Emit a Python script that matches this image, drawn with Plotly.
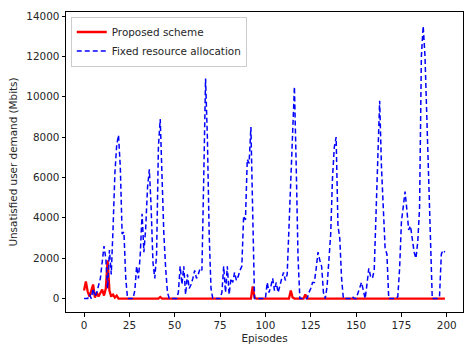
import plotly.graph_objects as go

episodes = list(range(200))

fixed_alloc = [
    0, 0, 0, 200, 0, 500, 100, 300, 600, 1000,            # 0-9
    1800, 2600, 2000, 500, 2400, 1200, 3500, 6200, 7600, 8100,  # 10-19
    6500, 3200, 3300, 1000, 0, 0, 0, 0, 400, 1600,        # 20-29
    1000, 2200, 4200, 2300, 3500, 5500, 6400, 4500, 1800, 1000,  # 30-39
    2200, 7500, 8900, 5500, 3200, 1500, 300, 0, 0, 0,     # 40-49
    0, 0, 300, 1600, 700, 1600, 200, 1200, 500, 700,      # 50-59
    1000, 1400, 1000, 1200, 1500, 1400, 6000, 10900, 8000, 3200,  # 60-69
    500, 0, 0, 0, 0, 0, 300, 1600, 300, 1600,             # 70-79
    200, 1000, 800, 1300, 900, 1100, 1400, 1600, 4100, 3900,  # 80-89
    6900, 6700, 8500, 4000, 0, 0, 0, 0, 0, 0,             # 90-99
    0, 800, 300, 600, 1000, 400, 800, 300, 700, 1000,     # 100-109
    1300, 900, 1200, 3500, 6400, 8500, 10500, 6500, 2000, 0,  # 110-119
    0, 0, 0, 0, 300, 500, 800, 800, 1500, 2300,           # 120-129
    1900, 1600, 300, 0, 600, 2000, 3200, 6000, 7500, 8000,  # 130-139
    3600, 3000, 1000, 0, 0, 0, 0, 0, 100, 0,              # 140-149
    0, 300, 600, 800, 400, 0, 700, 1500, 1100, 1000,      # 150-159
    1400, 4000, 7500, 9800, 6500, 4500, 2500, 2200, 0, 0,  # 160-169
    0, 0, 0, 100, 1500, 3800, 4500, 5300, 4400, 3400,     # 170-179
    3600, 3000, 2300, 2000, 2800, 4500, 12000, 13500, 12000, 9000,  # 180-189
    6500, 3000, 0, 0, 0, 0, 100, 2200, 2400, 2300,        # 190-199
]

proposed = [
    400, 850, 350, 100, 400, 700, 50, 300, 100, 300,      # 0-9
    450, 150, 500, 1900, 400, 100, 200, 50, 150, 0,       # 10-19
] + [0] * 22 + [80] + [0] * 50 + [600, 50] + [0] * 19 + [400, 50] + [0] * 6 + [200] + [0] * 77

xticks = [0, 25, 50, 75, 100, 125, 150, 175, 200]
yticks = [0, 2000, 4000, 6000, 8000, 10000, 12000, 14000]
ytick_text = [str(v) for v in yticks]

font = dict(family="DejaVu Sans", size=10.4, color="#262626")

fig = go.Figure()
fig.add_trace(go.Scatter(
    x=episodes, y=proposed, mode="lines", name="Proposed scheme",
    line=dict(color="red", width=2.3),
))
fig.add_trace(go.Scatter(
    x=episodes, y=fixed_alloc, mode="lines", name="Fixed resource allocation",
    line=dict(color="blue", width=1.5, dash="5px,3px"),
))

axis_common = dict(
    showgrid=False, zeroline=False, showline=True, linecolor="black",
    linewidth=1, mirror=True, ticks="outside", ticklen=3.5, tickwidth=1,
    tickcolor="black", tickfont=font, automargin=False,
)
fig.update_layout(
    width=474, height=355,
    paper_bgcolor="white", plot_bgcolor="white",
    margin=dict(l=66, r=11, t=12, b=43),
    font=font,
    xaxis=dict(range=[-9.95, 208.95], tickvals=xticks,
               title=dict(text="Episodes", font=font, standoff=4), **axis_common),
    yaxis=dict(range=[-664, 14198], tickvals=yticks, ticktext=ytick_text,
               title=dict(text="Unsatisfied user demand (Mbits)", font=font, standoff=6),
               **axis_common),
    legend=dict(x=0.012, y=0.985, xanchor="left", yanchor="top",
                bgcolor="rgba(255,255,255,0.8)", bordercolor="#cccccc", borderwidth=1,
                font=font, tracegroupgap=0, itemwidth=30),
    showlegend=True,
)

fig.write_html(
    "out.html",
    config={"displayModeBar": False},
    post_script="document.body.style.margin='0';document.body.style.overflow='hidden';",
)
